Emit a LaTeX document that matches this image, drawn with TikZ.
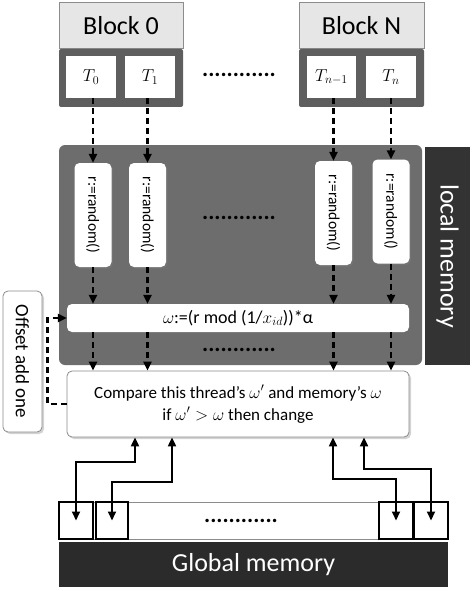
\documentclass[tikz,border=0pt]{standalone}
\usepackage{fontspec}
\usepackage{graphicx}
\setmainfont{Carlito}
\usetikzlibrary{arrows.meta,shadows,calc}
\definecolor{hdrgray}{HTML}{E6E6E6}
\definecolor{hdrline}{HTML}{8C8C8C}
\definecolor{thrgray}{HTML}{5E5E5E}
\definecolor{lmgray}{HTML}{6D6D6D}
\definecolor{lmlab}{HTML}{333333}
\definecolor{globgray}{HTML}{2B2B2B}
\begin{document}
\begin{tikzpicture}[x=1pt,y=-1pt,
  hdr/.style={draw=hdrline,line width=1pt,fill=hdrgray,minimum width=124pt,minimum height=46pt,inner sep=0pt,font=\fontsize{26}{30}\selectfont},
  thr/.style={fill=thrgray,rounded corners=2pt,minimum width=124pt,minimum height=58pt,inner sep=0pt},
  tbox/.style={fill=white,minimum width=50pt,minimum height=42pt,inner sep=0pt,font=\fontsize{17}{20}\selectfont},
  rbox/.style={fill=white,rounded corners=5pt,minimum width=37pt,minimum height=104pt,inner sep=0pt,font=\fontsize{15.5}{18}\selectfont,drop shadow={opacity=0.35,shadow xshift=1.5pt,shadow yshift=-1.5pt}},
  wbox/.style={fill=white,rounded corners=5pt,inner sep=0pt},
  dots/.style={font=\bfseries\fontsize{23}{23}\selectfont,inner sep=0pt},
  darr/.style={dash pattern=on 6pt off 4pt,line width=2.3pt,-{Triangle[length=9pt,width=8pt]}},
  sarr/.style={line width=2pt,{Triangle[length=9pt,width=8pt]}-{Triangle[length=9pt,width=8pt]}},
  cell/.style={draw=black,line width=1.5pt,fill=white,minimum height=37pt,inner sep=0pt}
]
\useasboundingbox (0,0) rectangle (474,591);
% blocks
\node[hdr] (hdr0) at (121,26) {Block 0};
\node[thr] (thr0) at (121,78) {};
\node[tbox] (T0) at (91,77) {$T_0$};
\node[tbox] (T1) at (150,77) {$T_1$};
\node[hdr,minimum width=125pt] (hdrN) at (361.5,26) {Block N};
\node[thr,minimum width=125pt] (thrN) at (361.5,78) {};
\node[tbox,minimum width=49pt] (Tn1) at (331.5,77) {$T_{n-1}$};
\node[tbox] (Tn) at (391,77) {$T_n$};
\node[dots] (dots1) at (239,75) {............};
% local memory
\node[fill=lmgray,rounded corners=6pt,minimum width=363pt,minimum height=220pt,inner sep=0pt] (lm) at (240.5,255) {};
\node[fill=lmlab,minimum width=45pt,minimum height=218pt,inner sep=0pt,text=white,font=\fontsize{26}{30}\selectfont] (lmlabel) at (447.5,256) {\rotatebox{-90}{local memory}};
\node[rbox] (r1) at (93,215) {\rotatebox{-90}{r:=random()}};
\node[rbox] (r2) at (147.5,215) {\rotatebox{-90}{r:=random()}};
\node[rbox] (r3) at (333.5,213) {\rotatebox{-90}{r:=random()}};
\node[rbox] (r4) at (391,211.5) {\rotatebox{-90}{r:=random()}};
\node[dots,text=black] (dots2) at (239,218) {............};
\node[wbox,minimum width=342pt,minimum height=28pt,font=\fontsize{18}{22}\selectfont] (om) at (238,318) {$\omega$:=(r mod (1/$x_{id}$))*α};
\node[dots] (dots3) at (239,350) {............};
% compare
\node[wbox,draw=hdrline,line width=0.8pt,minimum width=342pt,minimum height=66pt,align=center,font=\fontsize{17}{22}\selectfont,drop shadow={opacity=0.35,shadow xshift=2pt,shadow yshift=-2pt}] (cmp) at (238,404) {Compare this thread’s $\omega'$ and memory’s $\omega$\\ if $\omega' > \omega$ then change};
\node[wbox,draw=hdrline,line width=0.8pt,minimum width=39pt,minimum height=141pt,font=\fontsize{19}{22}\selectfont,drop shadow={opacity=0.35,shadow xshift=2pt,shadow yshift=-2pt}] (off) at (22.5,361.5) {\rotatebox{-90}{Offset add one}};
% dashed arrows
\foreach \r/\t in {r1/T0,r2/T1,r3/Tn1,r4/Tn}{
  \draw[darr] (\r.north |- \t.south) -- (\r.north);
  \draw[darr] (\r.south) -- (\r.south |- om.north);
  \draw[darr] (\r.south |- om.south) -- (\r.south |- cmp.north);
}
\draw[darr] (cmp.west) -- ++(-19,0) |- (om.west);
% global memory
\node[cell,draw=hdrline,line width=1pt,minimum width=389pt] (row) at (253.5,520.5) {};
\node[cell,minimum width=34pt] (c1) at (76,520.5) {};
\node[cell,minimum width=32pt] (c2) at (112,520.5) {};
\node[cell,minimum width=34pt] (c3) at (396,520.5) {};
\node[cell,minimum width=34pt] (c4) at (431,520.5) {};
\node[dots] (dots4) at (241,521) {............};
\node[fill=globgray,minimum width=389pt,minimum height=45pt,inner sep=0pt,text=white,font=\fontsize{26}{30}\selectfont] (glob) at (253.5,564.5) {Global memory};
% solid arrows
\coordinate (u1) at (135,462);
\coordinate (u2) at (172,482);
\coordinate (u3) at (333,479);
\coordinate (u4) at (364,469);
\draw[sarr] (u1 |- cmp.south) -- (u1) -| (c1.center);
\draw[sarr] (u2 |- cmp.south) -- (u2) -| (c2.center);
\draw[sarr] (u3 |- cmp.south) -- (u3) -| (c3.center);
\draw[sarr] (u4 |- cmp.south) -- (u4) -| (c4.center);
\end{tikzpicture}
\end{document}
